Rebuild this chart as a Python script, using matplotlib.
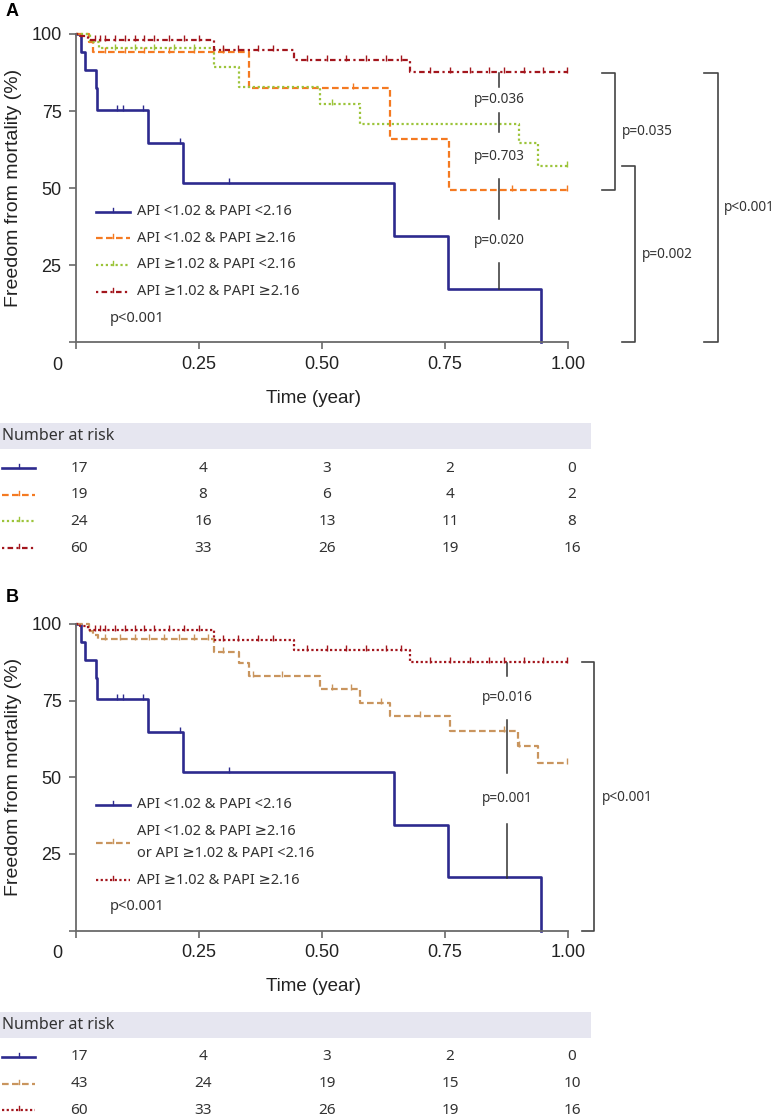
import numpy as np
import matplotlib
matplotlib.use('Agg')
import matplotlib.pyplot as plt
from matplotlib.lines import Line2D
from matplotlib.patches import Rectangle

W, H = 776, 1118

# ---- data ----
blue_t = [0, 0.012, 0.020, 0.041, 0.044, 0.147, 0.218, 0.646, 0.756, 0.946]
blue_s = [100, 94.1, 88.2, 82.4, 75.5, 64.7, 51.8, 34.5, 17.3, 0]
blue_c = [0.085, 0.097, 0.137, 0.213, 0.312]

orange_t = [0, 0.027, 0.035, 0.352, 0.638, 0.759, 1.0]
orange_s = [100, 97.4, 94.2, 82.6, 66.0, 49.4, 49.4]
orange_c = [0.06, 0.10, 0.14, 0.19, 0.24, 0.30, 0.564, 0.886, 0.998]

green_t = [0, 0.030, 0.047, 0.281, 0.332, 0.496, 0.578, 0.900, 0.939, 1.0]
green_s = [100, 97.5, 95.3, 89.4, 82.9, 77.3, 70.8, 64.5, 57.2, 57.2]
green_c = [0.08, 0.12, 0.16, 0.20, 0.24, 0.52, 0.998]

red_t = [0, 0.010, 0.025, 0.281, 0.443, 0.680, 1.0]
red_s = [100, 99.2, 98.1, 94.8, 91.6, 87.6, 87.6]
red_c = [0.04, 0.05, 0.06, 0.08, 0.10, 0.12, 0.14, 0.16, 0.19, 0.22, 0.25,
         0.30, 0.33, 0.37, 0.40, 0.47, 0.51, 0.55, 0.59, 0.63, 0.66,
         0.72, 0.76, 0.80, 0.84, 0.87, 0.91, 0.95, 0.998]

tan_t = [0, 0.027, 0.035, 0.045, 0.281, 0.332, 0.353, 0.496, 0.578, 0.638, 0.760, 0.898, 0.939, 1.0]
tan_s = [100, 97.7, 96.5, 95.0, 91.0, 87.2, 83.1, 78.9, 74.2, 69.9, 65.0, 60.2, 54.8, 54.8]
tan_c = [0.06, 0.09, 0.12, 0.15, 0.18, 0.21, 0.24, 0.27, 0.30, 0.36, 0.42, 0.52, 0.56, 0.62, 0.70, 0.87, 0.90, 0.998]

labels_a = ['API <1.02 & PAPI <2.16', 'API <1.02 & PAPI \u22652.16',
            'API \u22651.02 & PAPI <2.16', 'API \u22651.02 & PAPI \u22652.16']
labels_b = ['API <1.02 & PAPI <2.16', 'API <1.02 & PAPI \u22652.16\nor API \u22651.02 & PAPI <2.16',
            'API \u22651.02 & PAPI \u22652.16']

risk_a = [[17, 4, 3, 2, 0], [19, 8, 6, 4, 2], [24, 16, 13, 11, 8], [60, 33, 26, 19, 16]]
risk_b = [[17, 4, 3, 2, 0], [43, 24, 19, 15, 10], [60, 33, 26, 19, 16]]

xticks = [0.25, 0.5, 0.75, 1.0]
xticklabels = ['0.25', '0.50', '0.75', '1.00']
yticks = [25, 50, 75, 100]

# ---- styles ----
BLUE = '#2d2a8e'
ORANGE = '#f47a22'
GREEN = '#9cc43a'
RED = '#a3161d'
TAN = '#c9955e'
st_blue = dict(color=BLUE, lw=1.9, ls='-')
st_orange = dict(color=ORANGE, lw=1.6, ls=(0, (3, 1.5)))
st_green = dict(color=GREEN, lw=1.6, ls=(0, (1, 1.2)))
st_red_a = dict(color=RED, lw=1.6, ls=(0, (1, 1.5, 2.5, 1.5)))
st_red_b = dict(color=RED, lw=1.6, ls=(0, (1, 1.1)))
st_tan = dict(color=TAN, lw=1.6, ls=(0, (3, 1.5)))

TXT = ['Noto Sans', 'DejaVu Sans']
AX = ['Liberation Sans', 'DejaVu Sans']

fig = plt.figure(figsize=(W / 100, H / 100), dpi=100)


def fx(x):
    return x / W


def fy(y):
    return 1 - y / H


def fline(xs, ys, **kw):
    fig.add_artist(Line2D([fx(v) for v in xs], [fy(v) for v in ys], **kw))


def ftext(x, y, s, **kw):
    fig.text(fx(x), fy(y), s, **kw)


def km_axes(top, bottom, curves):
    x0, x1 = 75.5, 568
    ax = fig.add_axes([fx(x0), fy(bottom), (x1 - x0) / W, (bottom - top) / H])
    for t, s, c, st in curves:
        ax.step(t, s, where='post', clip_on=False, **st)
        cv = np.array(s)[np.searchsorted(t, c, side='right') - 1]
        ax.plot(c, cv + 0.6, ls='none', marker='|', ms=4.5, mew=1.0,
                color=st['color'], clip_on=False)
    ax.set_xlim(0, 1)
    ax.set_ylim(0, 100)
    for sp in ['top', 'right']:
        ax.spines[sp].set_visible(False)
    for sp in ['left', 'bottom']:
        ax.spines[sp].set_color('#6a6a6a')
        ax.spines[sp].set_linewidth(1.3)
    ax.set_xticks([0] + xticks)
    ax.set_xticklabels([''] + xticklabels, fontsize=13, family=AX, color='#222222')
    ax.set_yticks([0] + yticks)
    ax.set_yticklabels([''] + [str(v) for v in yticks], fontsize=13, family=AX, color='#222222')
    ax.tick_params(length=5, width=1.2, color='#6a6a6a', pad=5)
    ax.spines['left'].set_bounds(0, 100)
    ftext(57, bottom + 23, '0', fontsize=13, family=AX, color='#222222', ha='center', va='center')
    ftext(314, bottom + 56, 'Time (year)', fontsize=13.5, family=AX, color='#222222', ha='center', va='center')
    ftext(14, (top + bottom) / 2, 'Freedom from mortality (%)', fontsize=14, family=AX,
          color='#222222', rotation=90, ha='center', va='center')
    return ax


def legend(entries, x0=96, x1=130, xt=137):
    for y, lab, st in entries:
        if st is None:
            ftext(110, y, lab, fontsize=10.5, family=TXT, color='#333333', ha='left', va='center')
            continue
        fline([x0, x1], [y, y], **st)
        fline([(x0 + x1) / 2] * 2, [y - 4, y], color=st['color'], lw=1.0)
        ftext(xt, y, lab, fontsize=10.5, family=TXT, color='#333333', ha='left', va='center',
              linespacing=1.55)


def risk_table(top, rows, styles):
    fig.add_artist(Rectangle((0, fy(top + 26)), fx(591), 26 / H, color='#e6e6f0', lw=0))
    ftext(2, top + 13, 'Number at risk', fontsize=11.5, family=TXT, color='#333333', ha='left', va='center')
    cols = [79, 203, 327, 450, 572]
    for i, (row, st) in enumerate(zip(rows, styles)):
        y = top + 45 + i * 26.7
        fline([2, 35], [y, y], **st)
        fline([18.5, 18.5], [y - 4, y], color=st['color'], lw=1.0)
        for xc, v in zip(cols, row):
            ftext(xc, y, str(v), fontsize=11, family=TXT, color='#333333', ha='center', va='center')


def bracket(x0, x1, y0, y1):
    fline([x0, x1, x1, x0], [y0, y0, y1, y1], color='#444444', lw=1.2)


def ptext(x, y, s, ha='center'):
    ftext(x, y, s, fontsize=9.8, family=TXT, color='#333333', ha=ha, va='center')


# ---- panel A ----
km_axes(34, 342.3, [(blue_t, blue_s, blue_c, st_blue),
                    (orange_t, orange_s, orange_c, st_orange),
                    (green_t, green_s, green_c, st_green),
                    (red_t, red_s, red_c, st_red_a)])
ftext(12, 12, 'A', fontsize=13, family=AX, weight='bold', ha='center', va='center')
legend([(211.7, labels_a[0], st_blue), (238.3, labels_a[1], st_orange),
        (265, labels_a[2], st_green), (291.7, labels_a[3], st_red_a),
        (318.3, 'p<0.001', None)])
for y0, y1 in [(73.3, 86.7), (112.7, 131.7), (179.3, 219.3), (262.7, 289.3)]:
    fline([499, 499], [y0, y1], color='#333333', lw=1.1)
ptext(499, 99.3, 'p=0.036')
ptext(499, 156, 'p=0.703')
ptext(499, 240.7, 'p=0.020')
bracket(601.7, 615, 73.3, 190)
ptext(622, 131.7, 'p=0.035', ha='left')
bracket(621.7, 635, 166, 341.7)
ptext(642, 254, 'p=0.002', ha='left')
bracket(704.3, 717.7, 73.3, 341.7)
ptext(724, 207.3, 'p<0.001', ha='left')
risk_table(423, risk_a, [st_blue, st_orange, st_green, st_red_a])

# ---- panel B ----
km_axes(624, 930.5, [(blue_t, blue_s, blue_c, st_blue),
                     (tan_t, tan_s, tan_c, st_tan),
                     (red_t, red_s, red_c, st_red_b)])
ftext(12, 598, 'B', fontsize=13, family=AX, weight='bold', ha='center', va='center')
legend([(805, labels_b[0], st_blue), (842.5, labels_b[1], st_tan),
        (880, labels_b[2], st_red_b), (906.7, 'p<0.001', None)])
for y0, y1 in [(662.7, 675.7), (720, 772.7), (824.3, 878)]:
    fline([507, 507], [y0, y1], color='#333333', lw=1.1)
ptext(507, 697.7, 'p=0.016')
ptext(507, 799, 'p=0.001')
bracket(581.7, 594.3, 662.3, 930.5)
ptext(602, 797.3, 'p<0.001', ha='left')
risk_table(1012, risk_b, [st_blue, st_tan, st_red_b])

fig.savefig('out.png', dpi=100)
